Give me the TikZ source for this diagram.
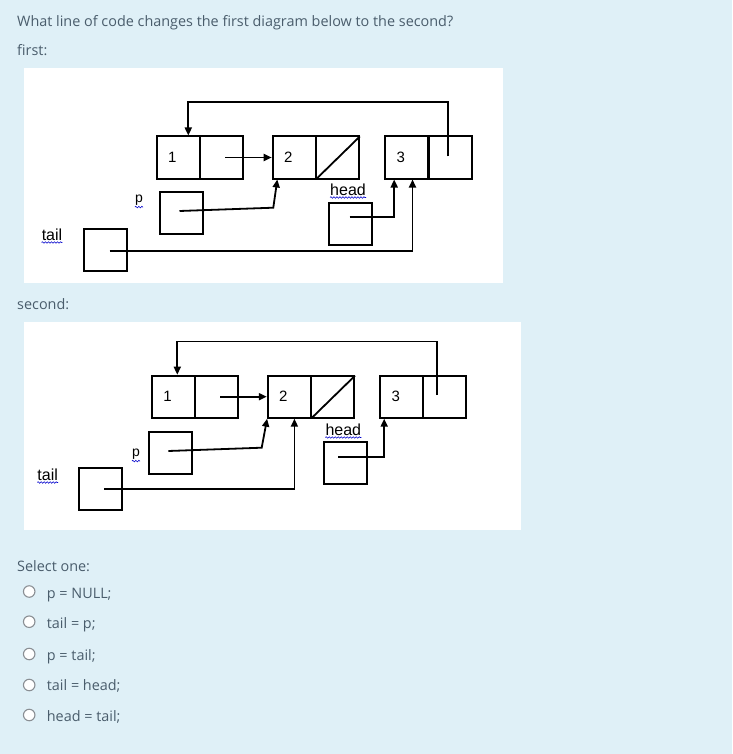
\documentclass[tikz,border=0pt]{standalone}
\usepackage{fontspec}
\setmainfont{Open Sans}
\newfontfamily\diag{Liberation Sans}
\usetikzlibrary{arrows.meta,calc,decorations.pathmorphing}
\definecolor{pagebg}{HTML}{DFF0F7}
\definecolor{qtext}{HTML}{4A5D6C}
\definecolor{radio}{HTML}{8A8F94}
\tikzset{
  cell/.style={draw=black, line width=2pt, minimum width=43pt, minimum height=42pt, inner sep=0pt},
  num/.style={font=\diag\fontsize{15}{17}\selectfont, inner sep=0pt},
  varlbl/.style={font=\diag\fontsize{16}{18}\selectfont, inner sep=0pt},
  plbl/.style={font=\diag\fontsize{14}{16}\selectfont, inner sep=0pt},
  wavy/.style={draw=blue!80!black, line width=0.6pt, decorate, decoration={snake, segment length=3pt, amplitude=0.8pt}},
  link/.style={draw=black, line width=1.8pt, -{Triangle[length=8pt,width=7pt]}},
  qtxt/.style={font=\fontsize{14.4}{17}\selectfont, text=qtext, anchor=base west, inner sep=0pt},
  opt/.style={draw=radio, fill=white, line width=1.1pt, circle, minimum size=11.5pt, inner sep=0pt},
}
\begin{document}
\begin{tikzpicture}[x=1pt,y=-1pt]
\useasboundingbox (0,0) rectangle (732,754);
\fill[pagebg] (0,0) rectangle (732,754);
% texts
\node[qtxt] (q) at (17,26.5) {What line of code changes the first diagram below to the second?};
\node[qtxt] (f) at (17,56) {first:};
\node[qtxt] (s) at (17,309) {second:};
\node[qtxt] (sel) at (17,571.5) {Select one:};
% panels
\fill[white] (24,68) rectangle (503,283);
\fill[white] (24,322) rectangle (521,530);

% ===== first diagram =====
\node[cell] (a1) at (178.3,157.5) {};
\node[cell] (a1n) at (221.3,157.5) {};
\node[cell] (a2) at (294.2,157.5) {};
\node[cell] (a2n) at (337.3,157.5) {};
\node[cell] (a3) at (406.7,157.5) {};
\node[cell] (a3n) at (450,157.5) {};
\draw[line width=1.8pt] ($(a2n.south west)+(2,-1)$) -- ($(a2n.north east)+(0,1)$);
\node[num] (a1t) at ($(a1)+(-6,0)$) {1};
\node[num] (a2t) at ($(a2)+(-6,0)$) {2};
\node[num] (a3t) at ($(a3)+(-6,0)$) {3};
\node[cell] (ap) at (181.5,212.8) {};
\node[cell] (ah) at (350.5,224.2) {};
\node[cell] (at) at (105.5,249.8) {};
\node[plbl, anchor=base] (apl) at (139,202) {p};
\node[varlbl, anchor=base] (ahl) at (348,195) {head};
\node[varlbl, anchor=base] (atl) at (52,240) {tail};
\draw[wavy] ($(apl.south west)+(0,2)$) -- ($(apl.south east)+(0,2)$);
\draw[wavy] ($(ahl.base west)+(0,2.5)$) -- ($(ahl.base east)+(0,2.5)$);
\draw[wavy] ($(atl.base west)+(0,2.5)$) -- ($(atl.base east)+(0,2.5)$);
% connectors
\draw[link] ($(a1n.center)+(4,0)$) -- (a2.west);
\coordinate (aR) at (448.3,102);
\coordinate (aL) at (188.3,102);
\draw[link] ($(a3n.center)+(-1.7,-1)$) -- (aR) -- (aL) -- (aL |- a1.north);
\coordinate (apk) at (273.3,207.7);
\draw[link] ($(ap.center)+(-2,-1.8)$) -- (apk) -- ($(a2.south west)+(5.6,0)$);
\draw[link] ($(ah.center)+(-1,-7.5)$) -| ($(a3.south west)+(10,0)$);
\draw[link] ($(at.center)+(4,1)$) -| ($(a3.south west)+(28.3,0)$);

% ===== second diagram =====
\node[cell] (b1) at (173.5,396.7) {};
\node[cell] (b1n) at (216.5,396.7) {};
\node[cell] (b2) at (289.3,396.7) {};
\node[cell] (b2n) at (332.5,396.7) {};
\node[cell] (b3) at (401.7,396.7) {};
\node[cell] (b3n) at (444.7,396.7) {};
\draw[line width=1.8pt] ($(b2n.south west)+(2,-1)$) -- ($(b2n.north east)+(0,1)$);
\node[num] (b1t) at ($(b1)+(-6,0)$) {1};
\node[num] (b2t) at ($(b2)+(-6,0)$) {2};
\node[num] (b3t) at ($(b3)+(-6,0)$) {3};
\node[cell] (bp) at (170.5,452.7) {};
\node[cell] (bh) at (345.5,463) {};
\node[cell] (bt) at (100.3,488.8) {};
\node[plbl, anchor=base] (bpl) at (136,456) {p};
\node[varlbl, anchor=base] (bhl) at (343.3,435) {head};
\node[varlbl, anchor=base] (btl) at (47.7,480) {tail};
\draw[wavy] ($(bpl.south west)+(0,2)$) -- ($(bpl.south east)+(0,2)$);
\draw[wavy] ($(bhl.base west)+(0,2.5)$) -- ($(bhl.base east)+(0,2.5)$);
\draw[wavy] ($(btl.base west)+(0,2.5)$) -- ($(btl.base east)+(0,2.5)$);
\draw[link] ($(b1n.center)+(3.5,0)$) -- (b2.west);
\coordinate (bR) at (437.3,341.5);
\coordinate (bL) at (177.3,341.5);
\draw[link] ($(b3n.center)+(-7.4,-1.7)$) -- (bR) -- (bL) -- (bL |- b1.north);
\coordinate (bpk) at (261.7,447.7);
\draw[link] ($(bp.center)+(-2.2,-1.7)$) -- (bpk) -- ($(b2.south west)+(0.3,0)$);
\draw[link] ($(bh.center)+(-7.2,-5.7)$) -| ($(b3.south west)+(5,0)$);
\draw[link] ($(bt.center)+(4,0.2)$) -| ($(b2.south west)+(27.6,0)$);

% ===== options =====
\node[opt] (o1) at (29.2,591.5) {};
\node[opt] (o2) at (29.2,621.7) {};
\node[opt] (o3) at (29.2,654) {};
\node[opt] (o4) at (29.2,685) {};
\node[opt] (o5) at (29.2,715) {};
\node[qtxt] (t1) at (46.7,598.3) {p = NULL;};
\node[qtxt] (t2) at (46.7,628.3) {tail = p;};
\node[qtxt] (t3) at (46.7,660) {p = tail;};
\node[qtxt] (t4) at (46.7,690.7) {tail = head;};
\node[qtxt] (t5) at (46.7,721.7) {head = tail;};
\end{tikzpicture}
\end{document}
